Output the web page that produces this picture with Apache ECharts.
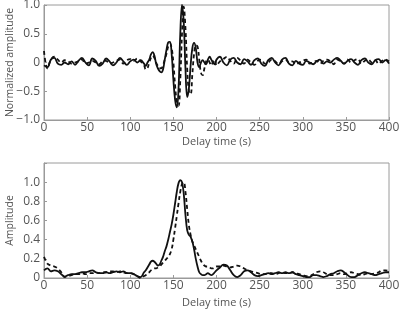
<!DOCTYPE html>
<html>
<head>
<meta charset="utf-8">
<script src="https://cdn.jsdelivr.net/npm/echarts@6/dist/echarts.min.js"></script>
<style>
  html, body { margin: 0; padding: 0; background: #fff; }
  #chart { width: 400px; height: 311px; }
</style>
</head>
<body>
<div id="chart"></div>
<script>
// delay times (s): coarse in quiet parts, finer around the pulse
var times = [];
for (var t = 0; t <= 116; t += 4) times.push(t);
for (var t = 118; t <= 198; t += 2) times.push(t);
for (var t = 200; t <= 400; t += 4) times.push(t);

// top panel: normalized amplitude
var topSolid = [
  -0.05, -0.08, 0.05, 0.08, -0.02, -0.04, 0.0, -0.03, 0.02, -0.04, 0.03, 0.08, 0.0, -0.05, 0.07,
  0.03, -0.06, -0.02, 0.07, 0.02, -0.05, 0.0, 0.08, 0.02, -0.04, 0.02, 0.05, 0.0, 0.04, -0.02,
  -0.06, 0.0, 0.05, 0.14, 0.18, 0.12, -0.02, -0.1, -0.15, -0.17, -0.12, 0.05, 0.22, 0.35, 0.36,
  0.15, -0.3, -0.65, -0.78, -0.45, 0.5, 1.0, 0.7, -0.1, -0.6, -0.45, -0.05, 0.25, 0.34, 0.25,
  0.0, -0.08, 0.0, 0.04, 0.0, -0.03, 0.05, 0.1, 0.05, 0.0, -0.03,
  0.05, 0.1, 0.0, -0.05, 0.05, 0.08, 0.0, -0.03, 0.06, 0.02, -0.04, 0.04, 0.07, -0.02, -0.06,
  0.04, 0.08, 0.0, -0.05, 0.05, 0.08, -0.02, -0.05, 0.03, -0.02, -0.04, 0.03, 0.0, -0.03, 0.02,
  0.05, -0.02, 0.02, 0.0, 0.05, 0.08, 0.03, -0.02, 0.03, 0.06, 0.0, -0.04, 0.04, 0.07, 0.0,
  -0.03, 0.04, 0.06, 0.0, 0.04, -0.02
];
var topDashed = [
  0.2, -0.1, 0.05, 0.1, 0.05, 0.0, 0.04, 0.02, -0.02, 0.0, 0.02, 0.05, -0.02, 0.0, 0.03,
  0.0, -0.03, 0.02, 0.03, -0.02, 0.0, 0.03, 0.05, -0.02, 0.04, 0.06, 0.03, 0.07, 0.02, -0.05,
  -0.12, -0.1, 0.0, 0.08, 0.12, 0.08, 0.0, -0.06, -0.1, -0.1, -0.05, 0.05, 0.15, 0.28, 0.33,
  0.25, 0.0, -0.4, -0.68, -0.75, -0.3, 0.5, 0.97, 0.6, -0.1, -0.5, -0.55, -0.2, 0.15, 0.3,
  0.28, 0.05, -0.18, -0.22, -0.1, 0.02, 0.05, 0.0, -0.05, 0.02, 0.05,
  -0.05, 0.02, 0.06, 0.1, 0.03, -0.02, 0.08, 0.03, -0.02, 0.05, 0.0, -0.04, 0.03, 0.05, -0.02,
  0.0, 0.05, 0.02, -0.03, 0.02, 0.05, 0.0, 0.02, -0.03, 0.0, 0.03, 0.05, -0.02, 0.0, 0.03,
  -0.02, 0.03, 0.05, 0.02, -0.03, 0.05, 0.02, -0.02, 0.05, 0.0, 0.04, 0.06, -0.02, 0.03, 0.05,
  0.0, 0.04, -0.02, 0.03, 0.05, 0.02
];

// bottom panel: amplitude
var botSolid = [
  0.08, 0.1, 0.07, 0.08, 0.07, 0.04, 0.015, 0.03, 0.04, 0.04, 0.05, 0.06, 0.06, 0.07, 0.08,
  0.06, 0.05, 0.05, 0.06, 0.05, 0.06, 0.07, 0.06, 0.07, 0.05, 0.05, 0.04, 0.02, 0.01, 0.06,
  0.08, 0.11, 0.14, 0.17, 0.18, 0.17, 0.15, 0.13, 0.14, 0.18, 0.22, 0.28, 0.33, 0.4, 0.48,
  0.56, 0.66, 0.78, 0.9, 0.99, 1.02, 1.0, 0.88, 0.66, 0.5, 0.45, 0.43, 0.38, 0.3, 0.2,
  0.12, 0.06, 0.04, 0.03, 0.03, 0.04, 0.05, 0.04, 0.03, 0.04, 0.06,
  0.08, 0.11, 0.14, 0.13, 0.08, 0.03, 0.01, 0.03, 0.07, 0.08, 0.06, 0.03, 0.02, 0.03, 0.04,
  0.05, 0.04, 0.05, 0.06, 0.05, 0.06, 0.05, 0.06, 0.04, 0.03, 0.02, 0.01, 0.01, 0.03, 0.03,
  0.02, 0.01, 0.02, 0.04, 0.05, 0.07, 0.08, 0.06, 0.03, 0.01, 0.01, 0.03, 0.05, 0.06, 0.05,
  0.04, 0.03, 0.04, 0.05, 0.06, 0.06
];
var botDashed = [
  0.22, 0.15, 0.13, 0.12, 0.1, 0.06, 0.01, 0.02, 0.03, 0.04, 0.04, 0.05, 0.04, 0.05, 0.05,
  0.06, 0.05, 0.06, 0.06, 0.07, 0.07, 0.06, 0.07, 0.06, 0.05, 0.05, 0.04, 0.02, 0.0, 0.02,
  0.03, 0.05, 0.06, 0.08, 0.09, 0.1, 0.1, 0.11, 0.12, 0.14, 0.16, 0.18, 0.2, 0.22, 0.25,
  0.3, 0.4, 0.52, 0.65, 0.78, 0.9, 0.98, 1.0, 0.9, 0.72, 0.55, 0.45, 0.38, 0.34, 0.3,
  0.26, 0.22, 0.18, 0.15, 0.13, 0.12, 0.12, 0.11, 0.1, 0.1, 0.11,
  0.12, 0.12, 0.13, 0.12, 0.11, 0.12, 0.13, 0.12, 0.1, 0.08, 0.07, 0.06, 0.05, 0.04, 0.04,
  0.05, 0.05, 0.04, 0.05, 0.06, 0.05, 0.05, 0.06, 0.05, 0.04, 0.03, 0.02, 0.02, 0.04, 0.06,
  0.07, 0.06, 0.04, 0.03, 0.03, 0.04, 0.05, 0.04, 0.05, 0.06, 0.05, 0.04, 0.03, 0.04, 0.05,
  0.04, 0.05, 0.06, 0.08, 0.08, 0.07
];

var xTicks = [0, 50, 100, 150, 200, 250, 300, 350, 400];
var topYTicks = [-1.0, -0.5, 0, 0.5, 1.0];
var botYTicks = [0, 0.2, 0.4, 0.6, 0.8, 1.0];

function pairs(vals) {
  return times.map(function (t, i) { return [t, vals[i]]; });
}
function fmtY(v) {
  if (Math.abs(v) < 1e-9) return '0';
  return v.toFixed(1).replace('-', '\u2212');
}

var font = '"Open Sans", sans-serif';
var axisGrey = '#9a9a9a';
var textCol = '#555';

function xAxisOpt(gridIndex, gap) {
  return {
    gridIndex: gridIndex, type: 'value', min: 0, max: 400, interval: 50,
    name: 'Delay time (s)', nameLocation: 'middle', nameGap: gap, nameMoveOverlap: false,
    nameTextStyle: { color: textCol, fontSize: 11, fontFamily: font },
    axisLine: { onZero: false, lineStyle: { color: axisGrey } },
    axisTick: { inside: true, length: 3, lineStyle: { color: axisGrey } },
    axisLabel: { color: textCol, fontSize: 12, fontFamily: font, margin: 2,
      formatter: function (v) { return xTicks.indexOf(v) >= 0 ? String(v) : ''; } },
    splitLine: { show: false }
  };
}
function yAxisOpt(gridIndex, name, min, max, interval, ticks, gap) {
  return {
    gridIndex: gridIndex, type: 'value', min: min, max: max, interval: interval,
    name: name, nameLocation: 'middle', nameGap: gap, nameMoveOverlap: false,
    nameTextStyle: { color: textCol, fontSize: 10.5, fontFamily: font },
    axisLine: { show: true, onZero: false, lineStyle: { color: axisGrey } },
    axisTick: { show: true, inside: true, length: 3, lineStyle: { color: axisGrey } },
    axisLabel: { color: textCol, fontSize: 12, fontFamily: font, margin: 4,
      formatter: function (v) {
        for (var i = 0; i < ticks.length; i++) {
          if (Math.abs(ticks[i] - v) < 1e-6) return fmtY(v);
        }
        return '';
      } },
    splitLine: { show: false }
  };
}
function lineSeries(xi, vals, dashed) {
  return {
    type: 'line', xAxisIndex: xi, yAxisIndex: xi, data: pairs(vals),
    smooth: 0.4, showSymbol: false, symbol: 'none', clip: true,
    lineStyle: { color: '#111', width: 1.8, type: dashed ? [4, 3] : 'solid' },
    z: dashed ? 3 : 2
  };
}

var chart = echarts.init(document.getElementById('chart'), null, { renderer: 'canvas' });
chart.setOption({
  animation: false,
  backgroundColor: '#fff',
  grid: [
    { left: 44, top: 5, width: 345, height: 115, show: true, borderColor: axisGrey, borderWidth: 1,
      containLabel: false, outerBoundsMode: 'none' },
    { left: 44, top: 163, width: 345, height: 115, show: true, borderColor: axisGrey, borderWidth: 1,
      containLabel: false, outerBoundsMode: 'none' }
  ],
  xAxis: [xAxisOpt(0, 16), xAxisOpt(1, 19)],
  yAxis: [
    yAxisOpt(0, 'Normalized amplitude', -1.0, 1.0, 0.5, topYTicks, 28),
    yAxisOpt(1, 'Amplitude', 0, 1.2, 0.2, botYTicks, 28)
  ],
  series: [
    lineSeries(0, topSolid, false),
    lineSeries(0, topDashed, true),
    lineSeries(1, botSolid, false),
    lineSeries(1, botDashed, true)
  ]
});
</script>
</body>
</html>
